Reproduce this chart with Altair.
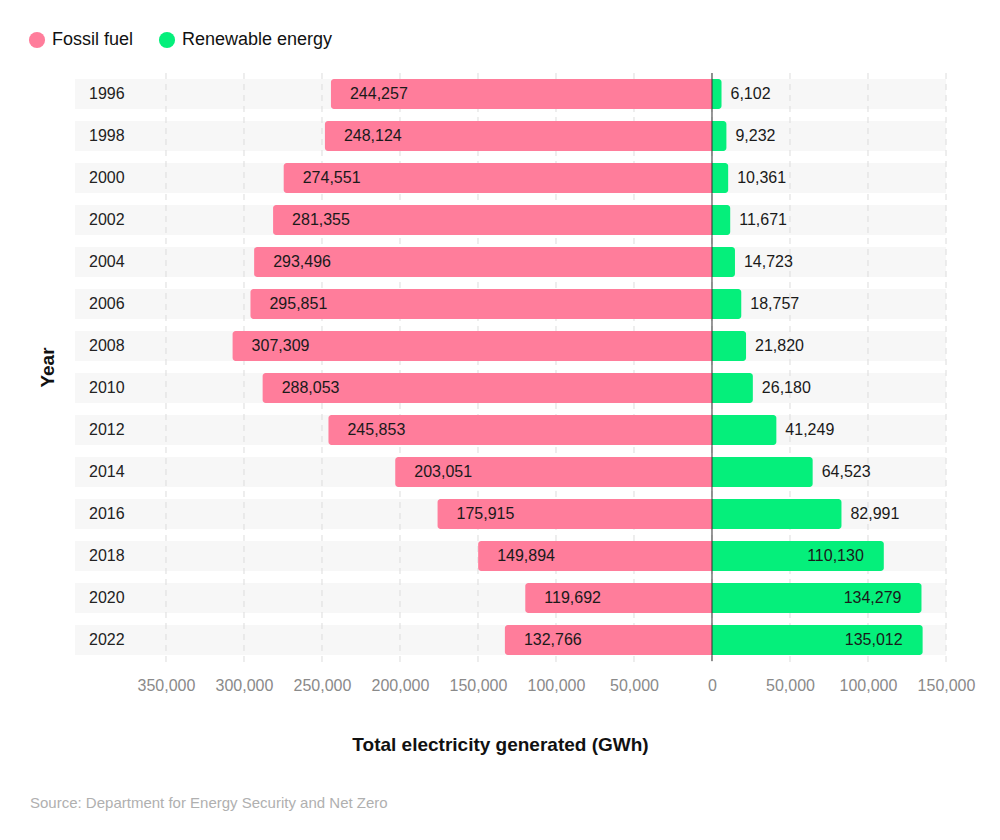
import altair as alt
import pandas as pd

# data
years = ["1996", "1998", "2000", "2002", "2004", "2006", "2008",
         "2010", "2012", "2014", "2016", "2018", "2020", "2022"]
fossil = [244257, 248124, 274551, 281355, 293496, 295851, 307309,
          288053, 245853, 203051, 175915, 149894, 119692, 132766]
renewable = [6102, 9232, 10361, 11671, 14723, 18757, 21820,
             26180, 41249, 64523, 82991, 110130, 134279, 135012]
tick_values = [-350000, -300000, -250000, -200000, -150000, -100000,
               -50000, 0, 50000, 100000, 150000]

FONT = "Liberation Sans"
PINK = "#FF7D9B"
GREEN = "#05EF7B"
W, H = 871, 588

df = pd.DataFrame({
    "Year": years * 2,
    "Source": ["Fossil fuel"] * len(years) + ["Renewable energy"] * len(years),
    "Value": [-v for v in fossil] + renewable,
})
df["Label"] = df["Value"].abs().map("{:,}".format)
ticks = pd.DataFrame({"tick": tick_values})
rows = pd.DataFrame({"Year": years})

x_scale = alt.Scale(domain=[-408333, 150000], nice=False, zero=False)
y_scale = alt.Scale(domain=years, paddingInner=0.28, paddingOuter=0.14)

x_axis = alt.Axis(
    values=tick_values, labelExpr="format(abs(datum.value), ',')",
    grid=False, ticks=False, domain=False, labelFontSize=16,
    labelColor="#8a8a8a", labelFont=FONT, labelPadding=16,
    labelOverlap=False, labelFlush=False,
    title="Total electricity generated (GWh)", titleFont=FONT,
    titleFontSize=19, titleFontWeight="bold", titleColor="#111",
    titlePadding=42, titleX=425, titleAnchor="middle",
)
y_axis = alt.Axis(labels=False, ticks=False, domain=False, grid=False,
                  title="Year", titleFont=FONT, titleFontSize=19,
                  titleFontWeight="bold", titleColor="#111", titlePadding=18)

# grey row bands
bands = alt.Chart(rows).mark_bar(color="#F7F7F7").encode(
    x=alt.value(0), x2=alt.value(W),
    y=alt.Y("Year:O", scale=y_scale, axis=y_axis),
)

year_text = alt.Chart(rows).mark_text(
    align="left", font=FONT, fontSize=16, color="#222"
).encode(x=alt.value(14), y=alt.Y("Year:O", scale=y_scale), text="Year:N")

grid = alt.Chart(ticks).mark_rule(
    color="#dcdcdc", strokeDash=[6, 5], strokeWidth=1
).encode(
    x=alt.X("tick:Q", scale=x_scale, axis=x_axis),
    y=alt.value(0), y2=alt.value(H + 4),
)

color = alt.Color("Source:N", scale=alt.Scale(
    domain=["Fossil fuel", "Renewable energy"], range=[PINK, GREEN]),
    legend=alt.Legend(
        orient="none", legendX=-47, legendY=-42, direction="horizontal",
        title=None, symbolType="circle", symbolSize=260, symbolStrokeWidth=0,
        labelFont=FONT, labelFontSize=18, labelColor="#111",
        labelOffset=6, columnPadding=24,
    ))

fossil_bars = alt.Chart(df).transform_filter(
    "datum.Source == 'Fossil fuel'"
).mark_bar(cornerRadiusTopLeft=3, cornerRadiusBottomLeft=3).encode(
    x=alt.X("Value:Q", scale=x_scale, stack=None),
    y=alt.Y("Year:O", scale=y_scale), color=color,
)
renew_bars = alt.Chart(df).transform_filter(
    "datum.Source == 'Renewable energy'"
).mark_bar(cornerRadiusTopRight=3, cornerRadiusBottomRight=3).encode(
    x=alt.X("Value:Q", scale=x_scale, stack=None),
    y=alt.Y("Year:O", scale=y_scale), color=color,
)

zero_line = alt.Chart(ticks).transform_filter("datum.tick == 0").mark_rule(
    color="#333", strokeWidth=1
).encode(x=alt.X("tick:Q", scale=x_scale), y=alt.value(0), y2=alt.value(H))

fossil_text = alt.Chart(df).transform_filter(
    "datum.Source == 'Fossil fuel'"
).mark_text(align="left", dx=19, font=FONT, fontSize=16, color="#1a1a1a").encode(
    x=alt.X("Value:Q", scale=x_scale), y=alt.Y("Year:O", scale=y_scale),
    text="Label:N",
)
renew_out = alt.Chart(df).transform_filter(
    "datum.Source == 'Renewable energy' && datum.Value < 100000"
).mark_text(align="left", dx=9, font=FONT, fontSize=16, color="#1a1a1a").encode(
    x=alt.X("Value:Q", scale=x_scale), y=alt.Y("Year:O", scale=y_scale),
    text="Label:N",
)
renew_in = alt.Chart(df).transform_filter(
    "datum.Source == 'Renewable energy' && datum.Value >= 100000"
).mark_text(align="right", dx=-20, font=FONT, fontSize=16, color="#1a1a1a").encode(
    x=alt.X("Value:Q", scale=x_scale), y=alt.Y("Year:O", scale=y_scale),
    text="Label:N",
)

source = alt.Chart(rows.head(1)).mark_text(
    align="left", font=FONT, fontSize=15, color="#b0b0b0",
    text="Source: Department for Energy Security and Net Zero",
).encode(x=alt.value(-45), y=alt.value(730))

chart = alt.layer(
    bands, grid, year_text, fossil_bars, renew_bars, zero_line,
    fossil_text, renew_out, renew_in, source,
).properties(
    width=W, height=H,
    autosize=alt.AutoSizeParams(type="none"),
    padding={"left": 67, "top": 65, "right": 30, "bottom": 170},
).configure_view(stroke=None)

chart.save("out.html", embed_options={"renderer": "svg", "actions": False})
